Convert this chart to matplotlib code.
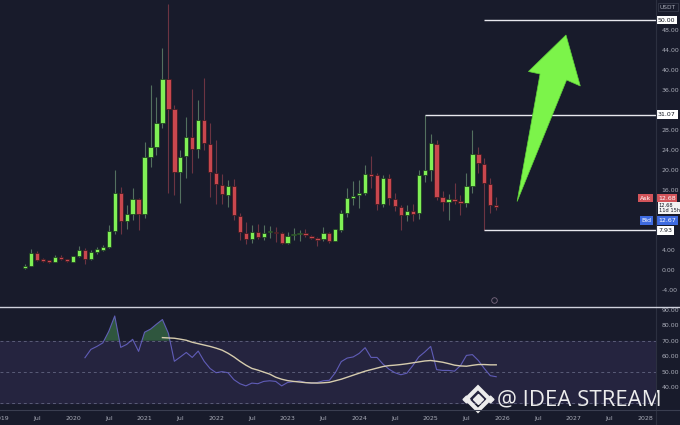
import numpy as np
import pandas as pd
import matplotlib
matplotlib.use('Agg')
import matplotlib.pyplot as plt
from matplotlib.patches import Polygon
from matplotlib.transforms import blended_transform_factory

# Monatskerzen LINK/USDT, Mai 2019 bis Dez 2025
months = pd.period_range('2019-05', '2025-12', freq='M')
opens = [0.33, 0.86, 3.33, 2.13, 1.75, 1.67, 2.67, 2.13, 1.67, 2.80,
         4.00, 2.13, 3.60, 4.00, 4.53, 7.80, 15.50, 9.87, 11.27, 14.13,
         11.27, 22.67, 24.67, 29.47, 38.20, 32.20, 19.67, 22.80, 26.67, 24.13,
         30.00, 25.20, 19.47, 17.00, 15.00, 16.80, 10.80, 7.47, 6.20, 7.53,
         6.53, 7.60, 7.70, 7.40, 5.47, 6.95, 7.13, 7.47, 6.87, 6.40,
         6.20, 7.33, 5.87, 8.00, 11.33, 14.47, 14.93, 15.47, 19.20, 19.00,
         13.20, 18.33, 14.20, 12.67, 11.00, 11.80, 11.33, 19.07, 20.00, 25.13,
         14.67, 13.53, 14.20, 13.87, 13.33, 16.80, 23.20, 21.20, 17.20, 13.00]
closes = [0.86, 3.33, 2.00, 1.73, 1.65, 2.53, 2.13, 1.73, 2.73, 4.00,
          2.13, 3.53, 4.13, 4.53, 7.80, 15.50, 9.87, 11.13, 14.13, 11.27,
          22.53, 24.67, 29.33, 38.20, 32.20, 19.67, 22.67, 26.67, 24.13, 30.00,
          25.33, 19.53, 17.20, 15.20, 16.87, 11.00, 7.67, 6.20, 7.53, 6.53,
          7.47, 7.80, 7.40, 5.47, 6.87, 7.00, 7.47, 7.00, 6.40, 6.10,
          7.47, 5.87, 8.13, 11.33, 14.33, 14.87, 15.47, 19.20, 18.90, 13.20,
          18.33, 14.33, 12.80, 11.00, 11.80, 11.20, 19.00, 20.00, 25.33, 14.67,
          13.53, 14.20, 13.90, 13.33, 16.80, 23.20, 21.33, 17.33, 13.00, 12.68]
highs = [1.20, 4.30, 3.80, 2.50, 2.00, 3.00, 3.00, 2.30, 2.90, 4.80,
         4.40, 4.00, 4.60, 5.00, 9.00, 20.10, 16.70, 13.00, 16.50, 14.50,
         25.70, 37.00, 34.70, 44.50, 53.30, 33.00, 24.00, 30.70, 36.30, 34.00,
         38.50, 29.40, 26.00, 19.30, 18.00, 18.30, 11.50, 9.70, 9.00, 9.30,
         9.00, 8.90, 8.70, 7.70, 7.60, 8.40, 8.00, 8.20, 7.10, 6.60,
         8.60, 7.60, 8.30, 12.00, 16.50, 17.90, 18.00, 21.00, 22.80, 19.50,
         19.00, 19.30, 15.50, 13.00, 13.00, 13.20, 20.00, 31.07, 27.30, 26.00,
         15.80, 15.30, 17.50, 15.00, 19.50, 28.10, 24.60, 22.50, 18.50, 14.70]
lows = [0.30, 0.80, 1.90, 1.60, 1.50, 1.60, 2.00, 1.60, 1.60, 2.60,
        1.30, 2.00, 3.30, 3.80, 4.40, 7.30, 7.30, 8.30, 10.00, 8.00,
        10.50, 20.70, 23.00, 28.50, 15.40, 15.00, 13.40, 18.50, 19.50, 22.50,
        24.00, 14.70, 13.30, 13.30, 12.70, 10.00, 6.00, 5.30, 5.50, 6.20,
        6.10, 6.50, 5.60, 5.30, 5.30, 6.00, 5.90, 6.70, 6.20, 4.80,
        5.80, 5.50, 5.80, 7.60, 10.70, 13.00, 12.40, 15.00, 16.50, 12.00,
        12.60, 13.00, 11.90, 8.00, 9.90, 9.80, 10.20, 17.60, 17.80, 14.00,
        11.80, 10.10, 13.20, 11.00, 12.60, 15.50, 19.50, 7.93, 11.50, 12.00]

# RSI ab Maerz 2020, gleitender Durchschnitt ab April 2021
rsi_start = '2020-03'
rsi = [59.0, 64.4, 66.3, 68.6, 76.1, 86.0, 65.7, 67.6, 70.9, 63.1,
       75.5, 77.5, 80.7, 83.7, 74.8, 56.7, 59.5, 62.4, 59.2, 63.3,
       56.7, 52.0, 49.3, 50.0, 49.3, 44.8, 42.2, 40.8, 42.6, 42.2,
       43.7, 44.1, 43.7, 40.8, 43.0, 43.5, 44.0, 43.0, 42.5, 43.0,
       44.1, 44.4, 49.3, 56.5, 58.8, 59.5, 61.8, 65.5, 59.2, 59.2,
       54.9, 51.6, 49.3, 48.0, 49.0, 53.9, 59.5, 62.7, 66.3, 51.3,
       50.8, 50.8, 50.3, 53.9, 60.5, 61.0, 57.2, 52.0, 47.4, 46.7]
rsi_ma_start = '2021-04'
rsi_ma = [72.0, 71.8, 71.6, 71.0, 70.3, 69.0, 68.1, 67.2, 66.3, 65.2,
          63.9, 61.9, 59.5, 56.7, 54.2, 52.1, 51.0, 49.7, 48.4, 46.4,
          45.1, 44.2, 43.7, 43.3, 42.9, 42.7, 42.6, 42.8, 43.1, 44.1,
          45.1, 46.4, 47.7, 49.0, 50.3, 51.3, 52.3, 53.3, 53.9, 54.2,
          54.6, 55.1, 55.7, 56.3, 56.9, 57.2, 56.7, 56.1, 55.2, 54.2,
          53.7, 53.5, 54.1, 54.6, 54.6, 54.4, 54.4]

# eingezeichnete Niveaus
levels = [50.00, 31.07, 7.93]
level_start = ['2025-10', '2024-12', '2025-10']
last_price = 12.68
bid_price = 12.67
countdown = '11d 15h'

price_ticks = [-4, 0, 4, 16, 20, 24, 28, 36, 40, 44, 48]   # 8, 12, 32 liegen unter Schildern
rsi_ticks = [40, 50, 60, 70, 80, 90]                      # 30 liegt unter dem Wasserzeichen
x_tick_labels = ['2019', 'Jul', '2020', 'Jul', '2021', 'Jul', '2022', 'Jul', '2023', 'Jul',
                 '2024', 'Jul', '2025', 'Jul', '2026', 'Jul', '2027', 'Jul', '2028']


def month_index(p):
    p = pd.Period(p, freq='M')
    return (p.year - 2019) * 12 + p.month - 1


BG = '#181b2b'
GREEN = '#80f056'
RED = '#c9474e'
TXT = '#a9acb8'
W, H = 680, 425

fig = plt.figure(figsize=(6.8, 4.25), dpi=100, facecolor=BG)


def px_axes(x0, y0, x1, y1):
    a = fig.add_axes([x0 / W, 1 - y1 / H, (x1 - x0) / W, (y1 - y0) / H])
    a.set_facecolor(BG)
    return a


ax = px_axes(0, 0, 656, 305)
ax2 = px_axes(0, 307, 656, 410)
xlim = (-0.25, 109.8)

# ---- Kerzen ----
m = np.array([month_index(p) for p in months])
o = np.array(opens); c = np.array(closes); h = np.array(highs); l = np.array(lows)
up = c >= o
bottom = np.minimum(o, c)
height = np.maximum(np.abs(c - o), 0.3)
ax.vlines(m[up], l[up], h[up], color='#53705f', lw=0.8, zorder=2)
ax.vlines(m[~up], l[~up], h[~up], color='#6c3442', lw=0.8, zorder=2)
ax.bar(m[up], height[up], bottom=bottom[up], width=0.72, color=GREEN,
       edgecolor='#1c3a1e', linewidth=0.5, zorder=3)
ax.bar(m[~up], height[~up], bottom=bottom[~up], width=0.72, color=RED,
       edgecolor='#3b1a20', linewidth=0.5, zorder=3)

ax.set_xlim(*xlim)
ax.set_ylim(-7, 54)
ax.set_xticks([])
ax.yaxis.tick_right()
ax.set_yticks(price_ticks)
ax.set_yticklabels([f'{v:.2f}' for v in price_ticks])
ax.tick_params(axis='y', length=0, pad=4, labelsize=4.5, labelcolor=TXT)
for s in ax.spines.values():
    s.set_visible(False)

# Niveaus + Preisschilder
tr = blended_transform_factory(ax.transAxes, ax.transData)
for lv, st in zip(levels, level_start):
    ax.hlines(lv, month_index(st), xlim[1], color='#e8e8ee', lw=1.0, zorder=4)
    ax.text(1.003, lv, f'{lv:.2f}', transform=tr, ha='left', va='center', fontsize=4.5,
            color='#131722', zorder=10, clip_on=False,
            bbox=dict(boxstyle='square,pad=0.3', fc='white', ec='none'))

ax.text(1.004, 13.4, f'{last_price:.2f}\n{countdown}', transform=tr, ha='left', va='top',
        fontsize=3.7, color='#131722', zorder=10, clip_on=False, linespacing=1.05,
        bbox=dict(boxstyle='square,pad=0.2', fc='#f2f2f2', ec='none'))
ax.text(1.003, 14.4, f'{last_price:.2f}', transform=tr, ha='left', va='center', fontsize=4.5,
        color='white', zorder=10, clip_on=False,
        bbox=dict(boxstyle='square,pad=0.3', fc='#d2545a', ec='none'))
ax.text(0.993, 14.4, 'Ask', transform=tr, ha='right', va='center', fontsize=4.5,
        color='white', zorder=10, clip_on=False,
        bbox=dict(boxstyle='square,pad=0.3', fc='#d2545a', ec='none'))
ax.text(1.003, 9.9, f'{bid_price:.2f}', transform=tr, ha='left', va='center', fontsize=4.5,
        color='white', zorder=10, clip_on=False,
        bbox=dict(boxstyle='square,pad=0.3', fc='#3e6be0', ec='none'))
ax.text(0.993, 9.9, 'Bid', transform=tr, ha='right', va='center', fontsize=4.5,
        color='white', zorder=10, clip_on=False,
        bbox=dict(boxstyle='square,pad=0.3', fc='#3e6be0', ec='none'))
ax.text(1.006, 0.985, 'USDT', transform=ax.transAxes, ha='left', va='top', fontsize=4.2,
        color=TXT, clip_on=False,
        bbox=dict(boxstyle='square,pad=0.3', fc=BG, ec='#3a3e4e', lw=0.5))

# gruener Pfeil nach oben
arrow = Polygon([(86.5, 13.7), (90.35, 39.2), (88.4, 39.7), (94.7, 47.0),
                 (97.1, 36.8), (94.8, 38.0)], closed=True, fc='#7cf44a',
                ec='#5fd03a', lw=0.5, zorder=6)
ax.add_patch(arrow)

# ---- RSI ----
rm = np.arange(len(rsi)) + month_index(rsi_start)
r = np.array(rsi)
mm = np.arange(len(rsi_ma)) + month_index(rsi_ma_start)
ax2.axhspan(30, 70, color='#25243f', zorder=0)
for lv in (30, 50, 70):
    ax2.axhline(lv, color='#5a5c78', lw=0.7, ls=(0, (3, 3)), zorder=1)
ax2.fill_between(rm, r, 70, where=r >= 70, interpolate=True, color='#3f7e4b',
                 alpha=0.6, lw=0, zorder=2)
ax2.plot(rm, r, color='#6a66cc', lw=0.8, alpha=0.85, zorder=3)
ax2.plot(mm, rsi_ma, color='#d6ccae', lw=1.0, zorder=4)

ax2.set_xlim(*xlim)
ax2.set_ylim(25.2, 91.8)
ax2.yaxis.tick_right()
ax2.set_yticks(rsi_ticks)
ax2.set_yticklabels([f'{v:.2f}' for v in rsi_ticks])
ax2.tick_params(axis='y', length=0, pad=4, labelsize=4.5, labelcolor=TXT)
ax2.set_xticks(np.arange(0, 109, 6))
ax2.set_xticklabels(x_tick_labels)
ax2.tick_params(axis='x', length=0, pad=4, labelsize=4.5, labelcolor=TXT)
for s in ax2.spines.values():
    s.set_visible(False)

# Trennlinien ueber die ganze Breite
fig.add_artist(plt.Line2D([656 / W, 656 / W], [0, 1], color='#2c3040', lw=0.8))
fig.add_artist(plt.Line2D([0, 1], [1 - 307 / H, 1 - 307 / H], color='#cfd1dc', lw=1.0))
fig.add_artist(plt.Line2D([0, 1], [1 - 410 / H, 1 - 410 / H], color='#3a3e50', lw=0.8))

# Wasserzeichen + kleine Symbole
ov = fig.add_axes([0, 0, 1, 1], facecolor='none')
ov.set_xlim(0, W)
ov.set_ylim(H, 0)
ov.axis('off')
ov.plot([494], [300], marker='o', ms=4, mfc='none', mec='#7a6a80', mew=0.6, lw=0)
wm = '#ececec'
ov.plot([469, 478, 487], [396.5, 387.5, 396.5], color=wm, lw=3.0, solid_joinstyle='miter')
ov.plot([469, 478, 487], [401.5, 410.5, 401.5], color=wm, lw=3.0, solid_joinstyle='miter')
ov.plot([478], [399], marker='D', ms=5, color=wm, lw=0)
ov.plot([466, 490], [399, 399], marker='D', ms=3.5, color=wm, lw=0)
ov.text(497, 400, '@ IDEA STREAM', fontsize=16, color=wm, va='center', ha='left',
        family='Open Sans')

plt.savefig('out.png', dpi=100, facecolor=BG)
